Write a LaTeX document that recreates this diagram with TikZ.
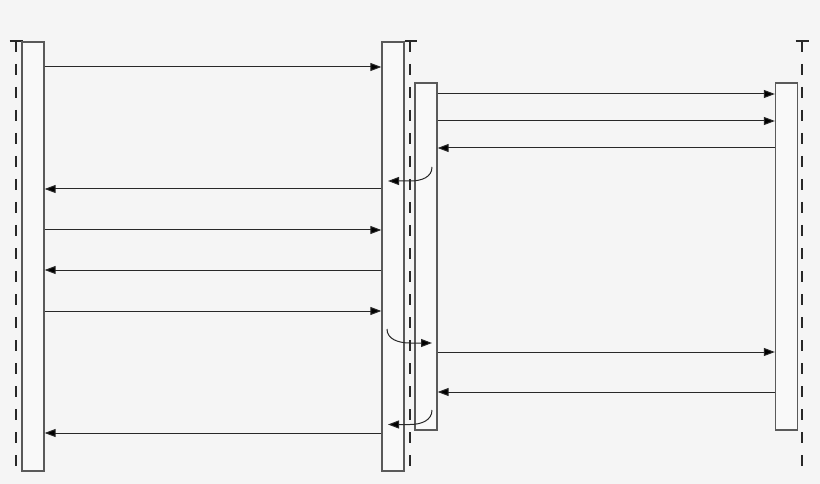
\documentclass[tikz,border=0pt]{standalone}
\usepackage{tikz}
\usetikzlibrary{arrows.meta,positioning,calc}
\definecolor{bggray}{RGB}{245,245,245}
\definecolor{linegray}{RGB}{40,40,40}
\definecolor{boxgray}{RGB}{90,90,90}

\begin{document}
\begin{tikzpicture}[
    x=1pt, y=-1pt,
    act/.style={rectangle, draw=boxgray, line width=1.3pt, fill=bggray!60!white, inner sep=0pt, minimum width=22pt},
    lifeline/.style={draw=linegray, line width=1.3pt, dash pattern=on 11pt off 12pt},
    lifecap/.style={draw=linegray, line width=1.3pt},
    msg/.style={-{Triangle[length=11pt,width=8pt,fill=black]}, draw=linegray, line width=1pt}
]
    % Background and bounds
    \fill[bggray] (0,0) rectangle (820,484);
    \useasboundingbox (0,0) rectangle (820,484);

    % Lifelines
    \coordinate (lifeA) at (16,41);
    \coordinate (lifeB) at (410,41);
    \coordinate (lifeC) at (802,41);
    \draw[lifeline] (lifeA) -- (lifeA |- 0,472);
    \draw[lifeline] (lifeB) -- (lifeB |- 0,472);
    \draw[lifeline] (lifeC) -- (lifeC |- 0,472);
    \draw[lifecap] ($(lifeA)+(-6.5,0)$) -- ($(lifeA)+(6.5,0)$);
    \draw[lifecap] ($(lifeB)+(-5.5,0)$) -- ($(lifeB)+(6.5,0)$);
    \draw[lifecap] ($(lifeC)+(-6.5,0)$) -- ($(lifeC)+(6.5,0)$);
    \draw[lifecap] (lifeA) -- ++(0,5);
    \draw[lifecap] (lifeB) -- ++(0,5);
    \draw[lifecap] (lifeC) -- ++(0,5);

    % Activations
    \node[act, minimum height=429pt] (actA) at (33,256.5) {};
    \node[act, minimum height=429pt] (actB) at (393,256.5) {};
    \node[act, minimum height=347pt] (actC) at (426,256.5) {};
    \node[act, minimum height=347pt] (actD) at (786.5,256.5) {};

    % Messages
    \draw[msg] (actA.east |- 0,67) -- (actB.west |- 0,67);
    \draw[msg] (actC.east |- 0,94) -- (actD.west |- 0,94);
    \draw[msg] (actC.east |- 0,121) -- (actD.west |- 0,121);
    \draw[msg] (actD.west |- 0,148) -- (actC.east |- 0,148);
    \draw[msg] (actB.west |- 0,189) -- (actA.east |- 0,189);
    \draw[msg] (actA.east |- 0,230) -- (actB.west |- 0,230);
    \draw[msg] (actB.west |- 0,270) -- (actA.east |- 0,270);
    \draw[msg] (actA.east |- 0,311) -- (actB.west |- 0,311);
    \draw[msg] (actC.east |- 0,352) -- (actD.west |- 0,352);
    \draw[msg] (actD.west |- 0,392) -- (actC.east |- 0,392);
    \draw[msg] (actB.west |- 0,433) -- (actA.east |- 0,433);

    % Returns and calls between B and C
    \coordinate (ret1) at (432,167);
    \coordinate (call1) at (387,329);
    \coordinate (ret2) at (432,410);
    \draw[msg] (ret1) .. controls (432,177) and (422,181) .. (410,181) -- (388,181);
    \draw[msg] (call1) .. controls (387,339) and (398,343) .. (410,343) -- (432,343);
    \draw[msg] (ret2) .. controls (432,420) and (422,424.5) .. (410,424.5) -- (388,424.5);
\end{tikzpicture}
\end{document}
